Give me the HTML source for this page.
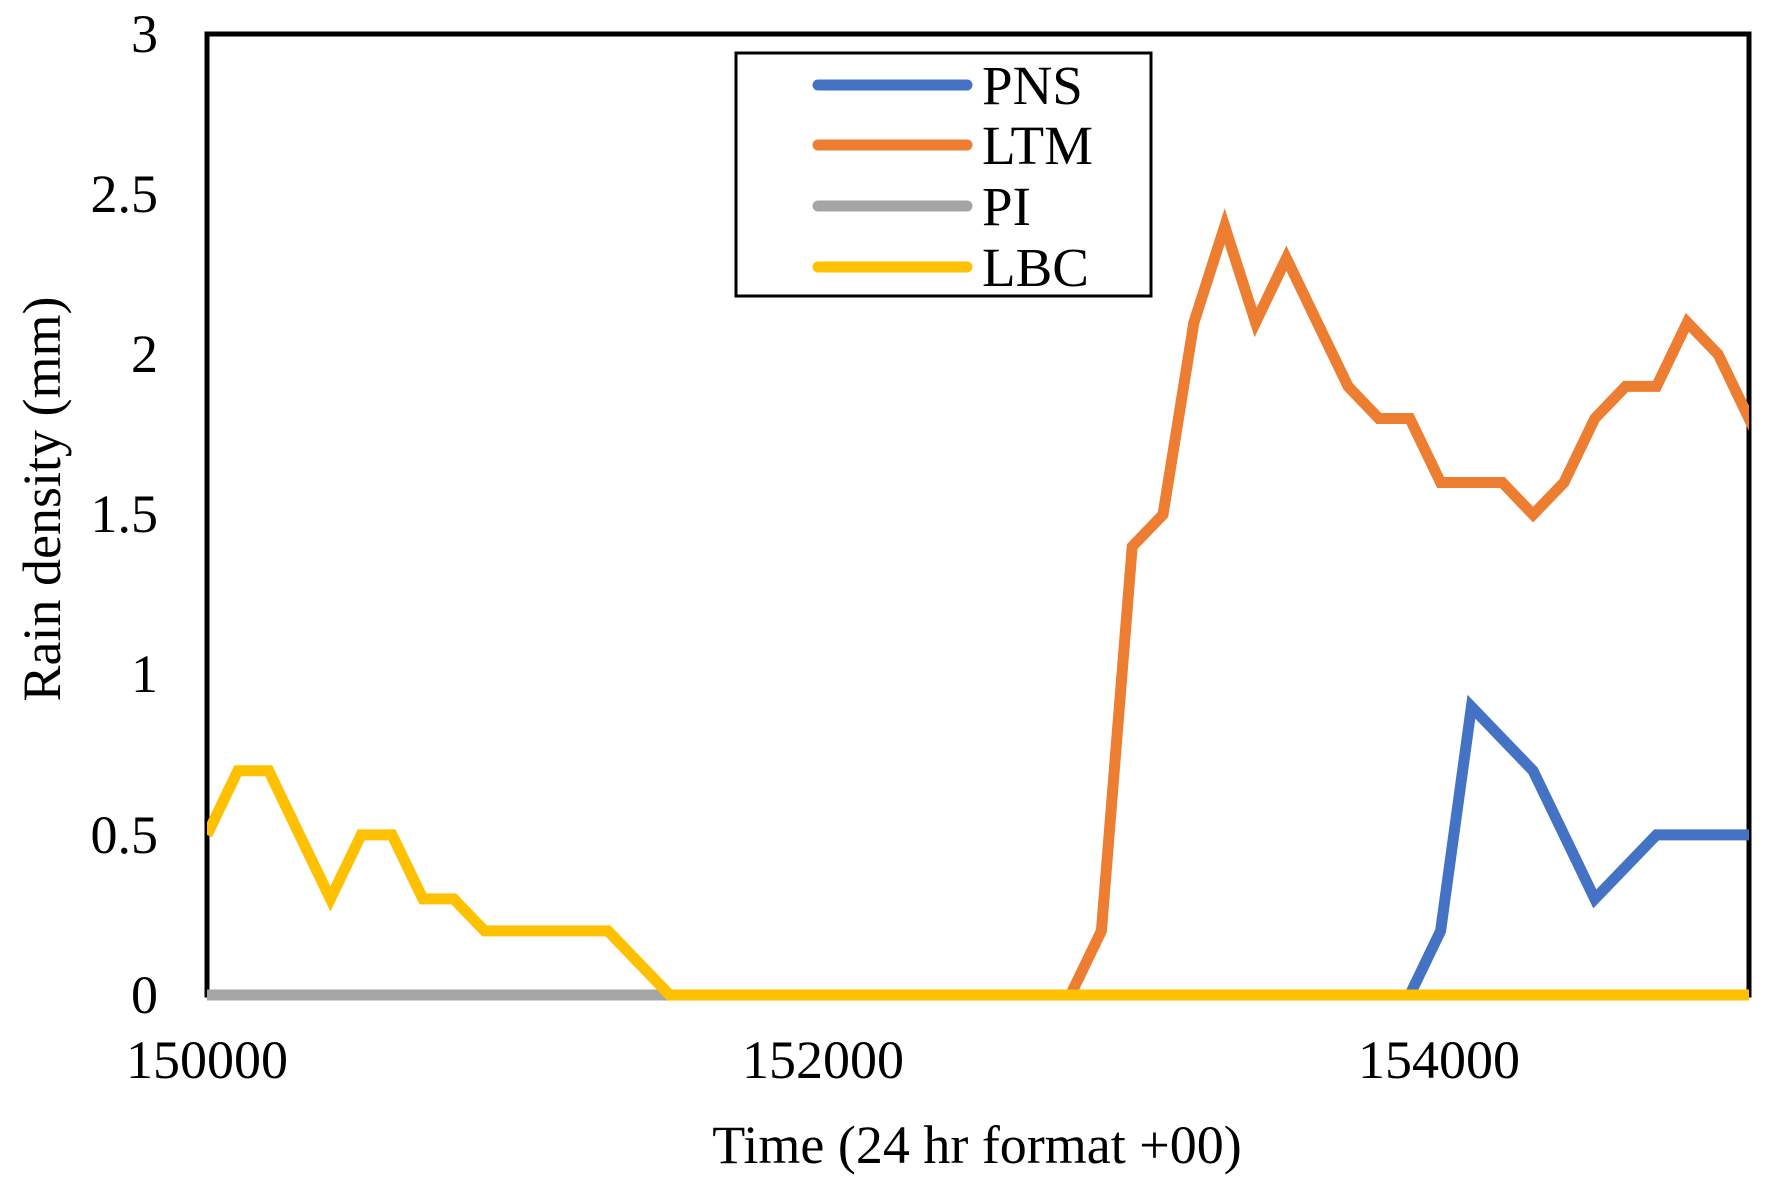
<!DOCTYPE html>
<html><head><meta charset="utf-8"><style>
html,body{margin:0;padding:0;background:#fff;}
svg{display:block;}
text{font-family:"Liberation Serif",serif;fill:#000;}
</style></head><body>
<svg width="1767" height="1183" viewBox="0 0 1767 1183" xmlns="http://www.w3.org/2000/svg">
<rect x="0" y="0" width="1767" height="1183" fill="#fff"/>
<rect x="207" y="34" width="1542" height="961" fill="none" stroke="#000" stroke-width="5"/>
<defs><clipPath id="c"><rect x="207" y="20" width="1542" height="990"/></clipPath></defs>
<g clip-path="url(#c)" fill="none" stroke-width="11" stroke-linejoin="miter">
<polyline stroke="#4472C4" points="207,995 1409.8,995 1440.6,930.9 1471.4,706.7 1502.3,738.8 1533.1,770.8 1564,834.9 1594.8,898.9 1625.6,866.9 1656.5,834.9 1754,834.9"/>
<polyline stroke="#ED7D31" points="207,995 1070.5,995 1101.4,930.9 1132.2,546.6 1163,514.6 1193.9,322.4 1224.7,226.3 1255.6,322.4 1286.4,258.3 1317.2,322.4 1348.1,386.4 1378.9,418.5 1409.8,418.5 1440.6,482.5 1502.3,482.5 1533.1,514.6 1564,482.5 1594.8,418.5 1625.6,386.4 1656.5,386.4 1687.3,322.4 1718.2,354.4 1749,418.5 1760,441"/>
<polyline stroke="#A5A5A5" points="207,995 1754,995"/>
<polyline stroke="#FFC000" points="207,834.9 237.8,770.8 268.7,770.8 299.5,834.9 330.4,898.9 361.2,834.9 392,834.9 422.9,898.9 453.7,898.9 484.6,930.9 607.9,930.9 638.8,963 669.6,995 1754,995"/>
</g>
<rect x="736" y="53" width="415" height="243" fill="#fff" stroke="#000" stroke-width="3"/>
<g stroke-width="11" stroke-linecap="round">
<line x1="818" y1="85" x2="967" y2="85" stroke="#4472C4"/>
<line x1="818" y1="145" x2="967" y2="145" stroke="#ED7D31"/>
<line x1="818" y1="206" x2="967" y2="206" stroke="#A5A5A5"/>
<line x1="818" y1="267" x2="967" y2="267" stroke="#FFC000"/>
</g>
<g font-size="55">
<text x="982" y="104">PNS</text>
<text x="982" y="164">LTM</text>
<text x="982" y="225">PI</text>
<text x="982" y="286">LBC</text>
</g>
<g font-size="54" text-anchor="end">
<text x="158" y="1013">0</text>
<text x="158" y="853">0.5</text>
<text x="158" y="692">1</text>
<text x="158" y="532">1.5</text>
<text x="158" y="372">2</text>
<text x="158" y="212">2.5</text>
<text x="158" y="52">3</text>
</g>
<g font-size="54" text-anchor="middle">
<text x="207" y="1078">150000</text>
<text x="823" y="1078">152000</text>
<text x="1439" y="1078">154000</text>
<text x="977" y="1163">Time (24 hr format +00)</text>
<text transform="translate(60,499) rotate(-90)">Rain density (mm)</text>
</g>
</svg>
</body></html>
